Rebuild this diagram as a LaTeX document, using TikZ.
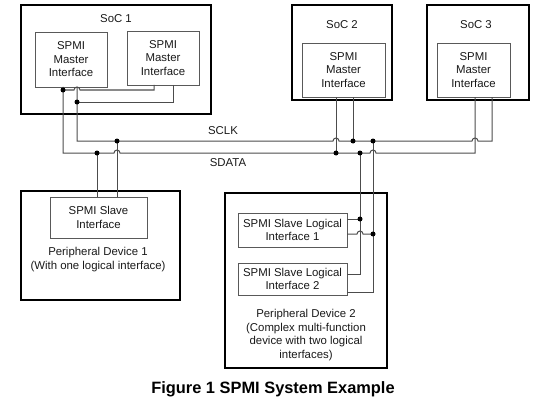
\documentclass[tikz,border=0pt]{standalone}
\usepackage{fontspec}
\setmainfont{Liberation Sans}
\begin{document}
\begin{tikzpicture}[x=1pt,y=-1pt,
  outerbox/.style={draw=black,line width=2.4pt,inner sep=0pt,outer sep=0pt},
  innerbox/.style={draw=black!65,line width=0.8pt,inner sep=0pt,outer sep=0pt,fill=white,align=center,text=black!90},
  txt/.style={align=center,text=black!90,inner sep=0pt},
  wire/.style={draw=black!70,line width=1pt},
  jdot/.style={fill=black,circle,inner sep=0pt,minimum size=5pt},
  every node/.append style={font=\fontsize{11.4}{13.5}\selectfont}]
\useasboundingbox (0,0) rectangle (534,401);
% outer boxes
\node[outerbox,minimum width=190,minimum height=109] (soc1) at (116,59.5) {};
\node[outerbox,minimum width=100,minimum height=95] (soc2) at (342,52.5) {};
\node[outerbox,minimum width=102,minimum height=95] (soc3) at (478,52.5) {};
\node[outerbox,minimum width=159,minimum height=109] (p1) at (100.5,245.5) {};
\node[outerbox,minimum width=162,minimum height=175] (p2) at (306,280.5) {};
% titles
\node[txt] (t1) at (116,19) {SoC 1};
\node[txt] (t2) at (342,25) {SoC 2};
\node[txt] (t3) at (476,25) {SoC 3};
% inner boxes
\node[innerbox,minimum width=72,minimum height=55] (m1a) at (71,59.5) {SPMI\\Master\\Interface};
\node[innerbox,minimum width=72,minimum height=54] (m1b) at (163,58) {SPMI\\Master\\Interface};
\node[innerbox,minimum width=83,minimum height=54] (m2) at (343.5,70) {SPMI\\Master\\Interface};
\node[innerbox,minimum width=73,minimum height=54] (m3) at (473.5,70) {SPMI\\Master\\Interface};
\node[innerbox,minimum width=97,minimum height=41] (s1) at (98.5,217.5) {SPMI Slave\\Interface};
\node[innerbox,minimum width=109,minimum height=34] (l1) at (292.5,230) {SPMI Slave Logical\\Interface 1};
\node[innerbox,minimum width=109,minimum height=32] (l2) at (292.5,279) {SPMI Slave Logical\\Interface 2};
\node[txt] (p1lab) at (98,259.5) {Peripheral Device 1\\(With one logical interface)};
\node[txt] (p2lab) at (306,335) {Peripheral Device 2\\(Complex multi-function\\device with two logical\\interfaces)};
\node[txt] (sclk) at (223,131) {SCLK};
\node[txt] (sdata) at (228,163) {SDATA};
\node[txt,font=\fontsize{16.4}{18}\selectfont\bfseries,text=black] (cap) at (273,389) {Figure 1 SPMI System Example};
% bus corner coordinates
\coordinate (d1) at (63,153);
\coordinate (c1) at (77,141);
\coordinate (d3) at (475,153);
\coordinate (c3) at (492,141);
% SDATA bus
\draw[wire] (m1a.south -| d1) -- (d1) -- (114,153) arc[start angle=180,end angle=0,radius=3pt]
  -- (370,153) arc[start angle=180,end angle=0,radius=3pt] -- (d3) -- (m3.south -| d3);
% SCLK bus
\draw[wire] (m1a.south -| c1) -- (c1) -- (333,141) arc[start angle=180,end angle=0,radius=3pt]
  -- (472,141) arc[start angle=180,end angle=0,radius=3pt] -- (c3) -- (m3.south -| c3);
% SoC1 second master
\coordinate (ja) at (63,90);
\coordinate (jb) at (77,102);
\draw[wire] (m1b.south -| 154,0) -- (154,90) -- (80,90) arc[start angle=0,end angle=180,radius=3pt] -- (ja);
\draw[wire] (m1b.south -| 173,0) -- (173,102) -- (jb);
% Peripheral 1
\coordinate (jc) at (97,153);
\coordinate (jd) at (117,141);
\draw[wire] (jc) -- (s1.north -| jc);
\draw[wire] (jd) -- (s1.north -| jd);
% SoC2
\coordinate (je) at (336,153);
\coordinate (jf) at (353,141);
\draw[wire] (m2.south -| je) -- (je);
\draw[wire] (m2.south -| jf) -- (jf);
% Peripheral 2
\coordinate (jg) at (360,153);
\coordinate (jh) at (373,141);
\coordinate (ji) at (360,219);
\coordinate (jj) at (373,234);
\draw[wire] (jg) -- (360,274) -- (l2.east |- 0,274);
\draw[wire] (jh) -- (373,292) -- (l2.east |- 0,292);
\draw[wire] (l1.east |- ji) -- (ji);
\draw[wire] (l1.east |- jj) -- (357,234) arc[start angle=180,end angle=0,radius=3pt] -- (jj);
% junction dots
\foreach \j in {ja,jb,jc,jd,je,jf,jg,jh,ji,jj} \node[jdot] at (\j) {};
\end{tikzpicture}
\end{document}
